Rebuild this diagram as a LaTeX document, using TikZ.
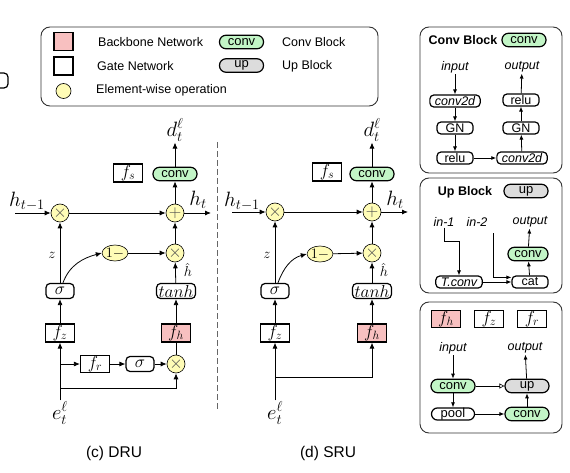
\documentclass[tikz,border=0pt]{standalone}
\usepackage{fontspec}
\setsansfont{Liberation Sans}
\usetikzlibrary{arrows.meta,shapes.geometric,calc}
\definecolor{backpink}{HTML}{F8C0C0}
\definecolor{convgreen}{HTML}{C2F5C6}
\definecolor{upgray}{HTML}{DCDCDC}
\definecolor{opyellow}{HTML}{FFFCB6}
\begin{document}
\begin{tikzpicture}[x=1pt,y=-1pt,
  arr/.style={-{Latex[length=6pt,width=5pt]},line width=0.8pt},
  sarr/.style={-{Latex[length=5pt,width=4pt]},line width=0.8pt},
  oarr/.style={-{Triangle[open,length=5pt,width=5pt]},line width=0.6pt},
  panel/.style={draw=black!80,line width=0.9pt,rounded corners=9pt},
  gate/.style={draw,line width=1.2pt,minimum width=29pt,minimum height=18pt,inner sep=0pt,font=\fontsize{17.28}{19}\selectfont},
  back/.style={gate,fill=backpink},
  rbox/.style={draw,line width=1.2pt,rounded corners=4pt,minimum width=28pt,minimum height=15pt,inner xsep=2pt,inner ysep=0pt,font=\fontsize{17.28}{19}\selectfont},
  sbox/.style={draw,line width=1.2pt,rounded corners=4pt,minimum height=12pt,minimum width=36pt,inner xsep=5pt,inner ysep=0pt,font=\sffamily\fontsize{12.5}{13}\selectfont},
  pill/.style={draw,line width=1.2pt,rounded corners=6.5pt,minimum width=44pt,minimum height=13.5pt,inner sep=0pt,font=\sffamily\fontsize{13}{14}\selectfont},
  conv/.style={pill,fill=convgreen},
  upb/.style={pill,fill=upgray},
  op/.style={circle,draw,line width=0.6pt,fill=opyellow,minimum size=18pt,inner sep=0pt,font=\fontsize{17.28}{18}\selectfont,text=black!70},
  oneminus/.style={ellipse,draw,line width=0.6pt,fill=opyellow,minimum width=25pt,minimum height=16pt,inner sep=0pt,font=\fontsize{14.4}{15}\selectfont},
  lbl/.style={inner sep=1pt,font=\fontsize{20.74}{22}\selectfont},
  sml/.style={inner sep=1pt,font=\fontsize{14.4}{15}\selectfont},
  txt/.style={inner sep=0pt,anchor=west,font=\sffamily\fontsize{12.5}{14}\selectfont},
  it/.style={inner sep=1pt,font=\sffamily\itshape\fontsize{12.5}{13}\selectfont},
  hdr/.style={inner sep=0pt,font=\sffamily\bfseries\fontsize{12.5}{14}\selectfont},
  captxt/.style={inner sep=0pt,font=\sffamily\fontsize{15.5}{17}\selectfont}]
\useasboundingbox (0,0) rectangle (570,473);

% cropped shape at the left border
\draw[line width=1.2pt,rounded corners=4pt] (-6,73) -- (8,73) -- (8,88) -- (-6,88);

% legend
\draw[panel] (41,27) rectangle (378,106);
\node[back,minimum width=19pt] (lgback) at (63.5,41.5) {};
\node[gate,minimum width=19pt] (lggate) at (63.5,66) {};
\node[op,minimum size=15pt] (lgop) at (63.5,91) {};
\node[txt] at (98,42) {Backbone Network};
\node[txt] at (97,66) {Gate Network};
\node[txt] at (96,90) {Element-wise operation};
\node[conv] (lgconv) at (241.5,42) {conv};
\node[upb] (lgup) at (241.5,65.5) {up};
\node[txt] at (282,42) {Conv Block};
\node[txt] at (282,66) {Up Block};

% (c) DRU
\node[op] (xa) at (60,213) {$\times$};
\node[op] (pa) at (175,213) {$+$};
\node[op] (xb) at (175,253) {$\times$};
\node[oneminus] (oma) at (115,253) {$1-$};
\node[conv] (cva) at (175,174) {conv};
\node[gate] (fsa) at (128,173) {$f_s$};
\node[rbox] (sga) at (60,291) {$\sigma$};
\node[rbox] (tha) at (176,291) {$tanh$};
\node[gate] (fza) at (60,333) {$f_z$};
\node[back] (fha) at (176,333) {$f_h$};
\node[op] (xc) at (176,364) {$\times$};
\node[gate,minimum height=17pt] (fra) at (95,364) {$f_r$};
\node[rbox] (sgb) at (140,364) {$\sigma$};
\node[lbl] (da) at (175,130) {$d_t^\ell$};
\node[lbl] (ea) at (60,413) {$e_t^\ell$};
\node[lbl] (hla) at (27,201) {$h_{t-1}$};
\node[lbl] (hta) at (198,200) {$h_t$};
\node[sml] (za) at (52,255) {$z$};
\node[sml] (hha) at (188,270) {$\hat h$};
\coordinate (hina) at (15,213);
\coordinate (houta) at (211,213);
\coordinate (ja) at (60,388);
\draw[arr] (hina) -- (xa);
\draw[arr] (xa) -- (pa);
\draw[arr] (pa) -- (houta);
\draw[arr] (pa) -- (cva);
\draw[arr] (cva) -- (da);
\draw[arr] (xb) -- (pa);
\draw[arr] (oma) -- (xb);
\draw[arr] (sga) -- (xa);
\draw[arr] (sga.70) to[out=70,in=195] (oma.west);
\draw[arr] (tha) -- (xb);
\draw[arr] (fza) -- (sga);
\draw[arr] (fha) -- (tha);
\draw[line width=0.8pt] (xc) -- (fha);
\draw[arr] (fra) -- (sgb);
\draw[arr] (sgb) -- (xc);
\draw[arr] (ea.north) -- (fza);
\draw[arr] (ea.north |- fra) -- (fra);
\draw[arr] (ja) -| (xc);
\node[captxt] (capa) at (114,453) {(c) DRU};

% separator
\draw[black!60,line width=0.8pt,dash pattern=on 6pt off 3pt] (217,142) -- (217,410);

% (d) SRU
\node[op] (xs) at (275,212) {$\times$};
\node[op] (ps) at (372,212) {$+$};
\node[op] (xsb) at (372,253) {$\times$};
\node[oneminus] (oms) at (320,254) {$1-$};
\node[conv] (cvs) at (372,174) {conv};
\node[gate] (fss) at (327,172) {$f_s$};
\node[rbox] (sgs) at (275,291) {$\sigma$};
\node[rbox] (ths) at (372,291) {$tanh$};
\node[gate] (fzs) at (275,333) {$f_z$};
\node[back] (fhs) at (372,333) {$f_h$};
\node[lbl] (ds) at (372,130) {$d_t^\ell$};
\node[lbl] (es) at (275,413) {$e_t^\ell$};
\node[lbl] (hls) at (242,201) {$h_{t-1}$};
\node[lbl] (hts) at (395,200) {$h_t$};
\node[sml] (zs) at (267,255) {$z$};
\node[sml] (hhs) at (384,270) {$\hat h$};
\coordinate (hins) at (232,212);
\coordinate (houts) at (408,212);
\coordinate (js) at (275,377);
\draw[arr] (hins) -- (xs);
\draw[arr] (xs) -- (ps);
\draw[arr] (ps) -- (houts);
\draw[arr] (ps) -- (cvs);
\draw[arr] (cvs) -- (ds);
\draw[arr] (xsb) -- (ps);
\draw[arr] (oms) -- (xsb);
\draw[arr] (sgs) -- (xs);
\draw[arr] (sgs.70) to[out=70,in=195] (oms.west);
\draw[arr] (ths) -- (xsb);
\draw[arr] (fzs) -- (sgs);
\draw[arr] (fhs) -- (ths);
\draw[arr] (es.north) -- (fzs);
\draw[arr] (js) -| (fhs);
\node[captxt] (capd) at (328,453) {(d) SRU};

% Conv Block
\draw[panel] (420,27) rectangle (562,173);
\node[hdr] (hconv) at (463,40) {Conv Block};
\node[conv] (cvk) at (524,40) {conv};
\node[it] (cin) at (455,67) {input};
\node[it] (cout) at (522,67) {output};
\node[sbox,font=\sffamily\itshape\fontsize{12.5}{13}\selectfont] (c1) at (455,101) {conv2d};
\node[sbox] (c2) at (455,128) {GN};
\node[sbox] (c3) at (455,158) {relu};
\node[sbox,font=\sffamily\itshape\fontsize{12.5}{13}\selectfont] (c4) at (522,158) {conv2d};
\node[sbox] (c5) at (521,128) {GN};
\node[sbox] (c6) at (521,100) {relu};
\draw[sarr] (cin) -- (c1);
\draw[sarr] (c1) -- (c2);
\draw[sarr] (c2) -- (c3);
\draw[sarr] (c3) -- (c4);
\draw[sarr] (c4) -- (c5);
\draw[sarr] (c5) -- (c6);
\draw[sarr] (c6) -- (cout);

% Up Block
\draw[panel] (420,178) rectangle (562,293);
\node[hdr] (hup) at (465,192) {Up Block};
\node[upb] (upk) at (526,191) {up};
\node[it] (i1) at (444,222) {in-1};
\node[it] (i2) at (477,222) {in-2};
\node[it] (uout) at (530,222) {output};
\node[conv,minimum width=40pt] (ucv) at (528,254) {conv};
\node[sbox,font=\sffamily\itshape\fontsize{12.5}{13}\selectfont] (tc) at (459,282) {T.conv};
\node[sbox] (cat) at (530,282) {cat};
\coordinate (i2s) at (493,233);
\draw[sarr] (i1.south) -- ++(0,14) -| (tc.north);
\draw[sarr] (i2s) |- ($(cat.north west)+(0,2)$);
\draw[sarr] (tc) -- (cat);
\draw[sarr] (cat) -- (ucv);
\draw[sarr] (ucv) -- (uout);

% gated network
\draw[panel] (420,302) rectangle (562,433);
\node[back,minimum height=17pt] (lfh) at (446,319) {$f_h$};
\node[gate,minimum height=17pt] (lfz) at (489,319) {$f_z$};
\node[gate,minimum height=17pt] (lfr) at (532,319) {$f_r$};
\node[it] (gin) at (453,348) {input};
\node[it] (gout) at (525,348) {output};
\node[conv] (g1) at (453,386) {conv};
\node[upb] (g2) at (527,386) {up};
\node[sbox,minimum width=43pt,rounded corners=6pt,font=\sffamily\fontsize{13}{14}\selectfont] (g3) at (453,414) {pool};
\node[conv] (g4) at (527,414) {conv};
\draw[sarr] (gin) -- (g1);
\draw[oarr] (g1) -- (g2);
\draw[sarr] (g1) -- (g3);
\draw[sarr] (g3) -- (g4);
\draw[sarr] (g4) -- (g2);
\draw[sarr] (g2) -- (gout);
\end{tikzpicture}
\end{document}
